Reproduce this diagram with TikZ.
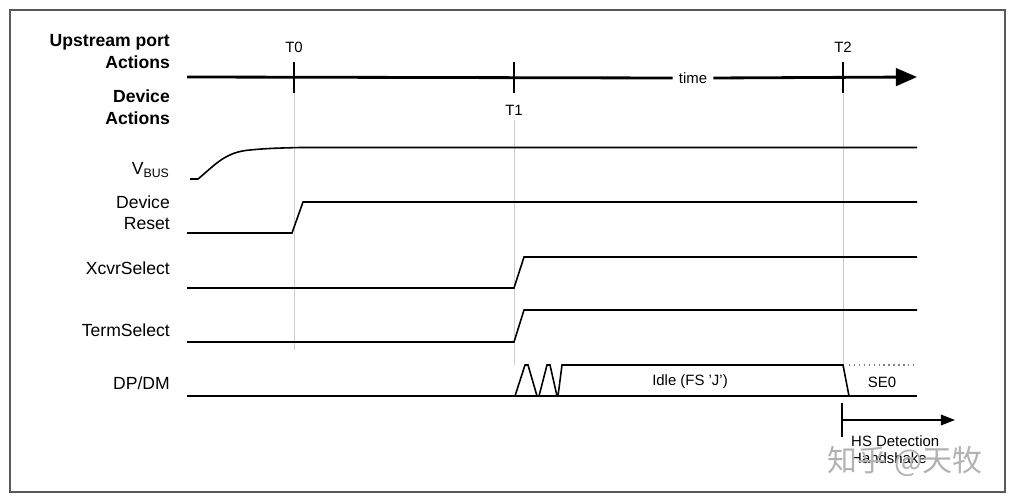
\documentclass[tikz,border=0pt]{standalone}
\usepackage{fontspec}
\setmainfont{Liberation Sans}
\newfontfamily\cjk{Noto Sans CJK SC}
\usetikzlibrary{arrows.meta}
\begin{document}
\begin{tikzpicture}[x=0.02cm,y=-0.02cm,
  sig/.style={line width=0.9pt,black},
  guide/.style={gray!40,line width=0.5pt},
  tick/.style={line width=0.9pt},
  lab/.style={font=\fontsize{10}{12}\selectfont,align=right,anchor=east},
  blab/.style={font=\bfseries\fontsize{10}{12.5}\selectfont,align=right,anchor=east},
  small/.style={font=\fontsize{8.5}{10}\selectfont}]
\useasboundingbox (0,0) rectangle (1016,502);
\draw[gray!70!black,line width=0.6pt] (10,10) rectangle (1005,492);
% labels
\node[blab] (up) at (176,52) {Upstream port\\Actions};
\node[blab] (dev) at (176,107) {Device\\Actions};
\node[lab] (vbus) at (176,170) {V\textsubscript{\fontsize{7}{8}\selectfont BUS}};
\node[lab] (rst) at (176,213) {Device\\Reset};
\node[lab] (xcvr) at (176,268) {XcvrSelect};
\node[lab] (term) at (176,330) {TermSelect};
\node[lab] (dpdm) at (176,383) {DP/DM};
% guides
\draw[guide] (294,93) -- (294,350);
\draw[guide] (514,120) -- (514,365);
\draw[guide] (843,93) -- (843,365);
% time axis
\node[small] (time) at (693,78) {time};
\coordinate (ts) at (187,77);
\coordinate (te) at (917,77);
\draw[line width=1.6pt] (ts) -- (time.west);
\draw[line width=1.6pt,-{Triangle[length=12pt,width=10pt]}] (time.east) -- (te);
\foreach \x/\n in {294/0,514/1,843/2} \draw[tick] (\x,62) -- (\x,93);
\node[small] (t0) at (294,47) {T0};
\node[small] (t1) at (514,110) {T1};
\node[small] (t2) at (843,47) {T2};
% signals
\draw[sig] (190,179) -- (198,179) .. controls (215,165) and (225,152) .. (250,150) .. controls (270,148) and (285,148) .. (300,147.5) -- (917,147.5);
\draw[sig] (187,233) -- (292,233) -- (303,202) -- (917,202);
\draw[sig] (187,288) -- (514,288) -- (524,257) -- (917,257);
\draw[sig] (187,342) -- (514,342) -- (524,310) -- (917,310);
\draw[sig] (187,396) -- (917,396);
\draw[sig] (515,396) -- (525,365) -- (528,365) -- (537,396) -- (539,396) -- (547,365) -- (550,365) -- (557,396) -- (558,396) -- (562,365) -- (843,365) -- (849,396);
\draw[gray,dotted,line width=0.8pt] (849,365) -- (917,365);
\node[small] (idle) at (690,382) {Idle (FS 'J')};
\node[small] (se0) at (882,382) {SE0};
% HS detection
\draw[sig] (842,403) -- (842,437);
\coordinate (hs0) at (842,420);
\coordinate (hs1) at (955,420);
\draw[sig,-{Triangle[length=8pt,width=6pt]}] (hs0) -- (hs1);
\node[small,align=left,anchor=north west] (hs) at (845,429) {HS Detection\\Handshake};
\node[gray!60,font=\cjk\fontsize{17}{18}\selectfont] (wm) at (905,462) {知乎 @天牧};
\end{tikzpicture}
\end{document}
